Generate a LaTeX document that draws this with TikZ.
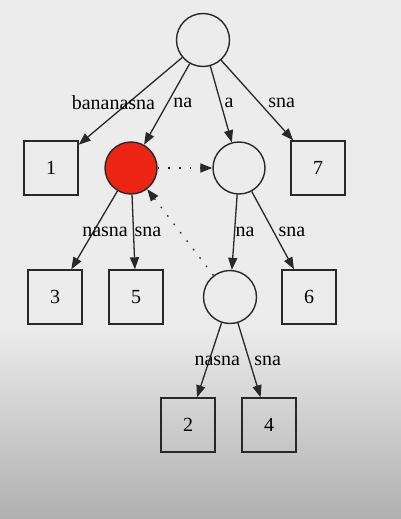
\documentclass[tikz,border=0pt]{standalone}
\usepackage{fontspec}
\setmainfont{Liberation Serif}
\usetikzlibrary{arrows.meta}

\definecolor{bggray}{RGB}{236,236,236}
\definecolor{bgdark}{RGB}{176,176,176}
\definecolor{linegray}{RGB}{40,40,40}
\definecolor{activered}{RGB}{236,36,20}

\tikzset{
    inner/.style = {circle, draw = linegray, line width = 1.4pt, minimum size = 53pt, inner sep = 0pt},
    leaf/.style = {rectangle, draw = linegray, line width = 1.4pt, minimum size = 54pt, inner sep = 0pt},
    edge/.style = {draw = linegray, line width = 1.3pt, -{Triangle[length = 12pt, width = 9pt]}},
    link/.style = {edge, dash pattern = on 1.6pt off 9pt},
    lbl/.style = {inner sep = 0pt, text = black}
}

\begin{document}
\begin{tikzpicture}[x = 1pt, y = -1pt, font = \rmfamily\fontsize{20}{24}\selectfont]
        \fill [bggray] (0,0) rectangle (401,325);
        \fill [top color = bggray, bottom color = bgdark] (0,325) rectangle (401,519);
        \useasboundingbox (0,0) rectangle (401,519);
        
        \node [inner] (root) at (203,40) {};
        \node [inner, fill = activered, minimum size = 52pt] (na) at (131,168) {};
        \node [inner, minimum size = 52pt] (a) at (239,168) {};
        \node [inner] (ana) at (230,297) {};
        
        \node [leaf] (l1) at (51,168) {1};
        \node [leaf] (l7) at (318,168) {7};
        \node [leaf] (l3) at (55,297) {3};
        \node [leaf] (l5) at (136,297) {5};
        \node [leaf] (l6) at (309,297) {6};
        \node [leaf] (l2) at (188,425) {2};
        \node [leaf] (l4) at (269,425) {4};
        
        \draw [edge] 
        (root) -- node[lbl, xshift = -17pt, yshift = -1.6pt]{bananasna}
        (l1);
        
        \draw [edge] 
        (root) -- node[lbl, xshift = 16pt, yshift = 1.5pt]{na}
        (na);
        
        \draw [edge] 
        (root) -- node[lbl, xshift = 8pt, yshift = 1.5pt]{a}
        (a);
        
        \draw [edge] 
        (root) -- node[lbl, xshift = 24.6pt, yshift = -2.5pt]{sna}
        (l7);
        
        \draw [edge] 
        (na) -- node[lbl, xshift = 10.7pt, yshift = -1.8pt]{nasna}
        (l3);
        
        \draw [edge] 
        (na) -- node[lbl, xshift = 14.5pt]{sna}
        (l5);
        
        \draw [edge] 
        (a) -- node[lbl, xshift = 10.5pt]{na}
        (ana);
        
        \draw [edge] 
        (a) -- node[lbl, xshift = 19pt, yshift = -1.5pt]{sna}
        (l6);
        
        \draw [edge] 
        (ana) -- node[lbl, xshift = 8pt, yshift = -1pt]{nasna}
        (l2);
        
        \draw [edge] 
        (ana) -- node[lbl, xshift = 18.5pt, yshift = -1pt]{sna}
        (l4);
        
        % suffix links
        \draw [link] (na) -- (a);
        \draw [link] (ana) -- (na);
    \end{tikzpicture}
\end{document}
